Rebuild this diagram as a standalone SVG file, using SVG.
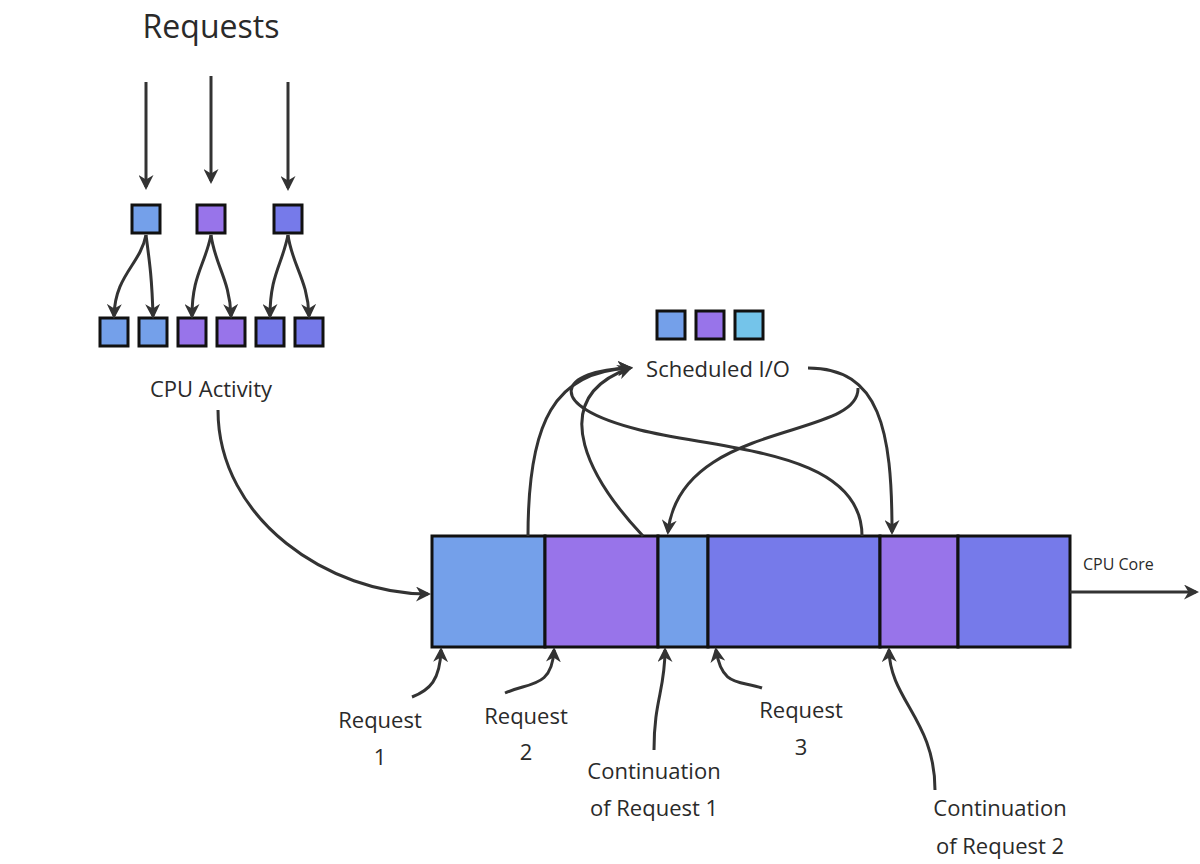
<svg xmlns="http://www.w3.org/2000/svg" width="1200" height="864" viewBox="0 0 1200 864">
<style>
text{font-family:"Open Sans","Noto Sans",sans-serif;fill:#2a2a2a}
.l{font-size:22px;text-anchor:middle}
.sq{stroke:#111;stroke-width:3}
.b{fill:#74a0ea}.p{fill:#9874ea}.i{fill:#767aea}.c{fill:#74c4ea}
#connectors path{fill:none;stroke:#333;stroke-width:3;marker-end:url(#ah)}
</style>
<defs><marker id="ah" viewBox="0 0 10 10" refX="8" refY="5" markerWidth="5" markerHeight="5" orient="auto" markerUnits="strokeWidth"><path d="M0 0L10 5L0 10L3 5Z" fill="#333"/></marker></defs>
<rect width="1200" height="864" fill="#fff"/>
<g id="title"><text x="211" y="38" style="font-size:32px;text-anchor:middle">Requests</text></g>
<g id="req-squares">
<rect class="sq b" x="132" y="205" width="28" height="28"/>
<rect class="sq p" x="197" y="205" width="28" height="28"/>
<rect class="sq i" x="274" y="205" width="28" height="28"/>
</g>
<g id="cpu-activity">
<rect class="sq b" x="100" y="318" width="28" height="28"/>
<rect class="sq b" x="139" y="318" width="28" height="28"/>
<rect class="sq p" x="178" y="318" width="28" height="28"/>
<rect class="sq p" x="217" y="318" width="28" height="28"/>
<rect class="sq i" x="256" y="318" width="28" height="28"/>
<rect class="sq i" x="295" y="318" width="28" height="28"/>
<text class="l" x="211" y="397">CPU Activity</text>
</g>
<g id="scheduled-io">
<rect class="sq b" x="657" y="311" width="28" height="28"/>
<rect class="sq p" x="696" y="311" width="28" height="28"/>
<rect class="sq c" x="735" y="311" width="28" height="28"/>
<text class="l" x="718" y="377">Scheduled I/O</text>
</g>
<g id="cpu-core">
<rect class="sq b" x="432" y="536" width="113" height="111"/>
<rect class="sq p" x="545" y="536" width="113" height="111"/>
<rect class="sq b" x="658" y="536" width="50" height="111"/>
<rect class="sq i" x="708" y="536" width="172" height="111"/>
<rect class="sq p" x="880" y="536" width="78" height="111"/>
<rect class="sq i" x="958" y="536" width="112" height="111"/>
<text x="1083" y="570" style="font-size:16px">CPU Core</text>
</g>
<g id="labels">
<text class="l" x="380" y="728">Request</text><text class="l" x="380" y="765">1</text>
<text class="l" x="526" y="724">Request</text><text class="l" x="526" y="760">2</text>
<text class="l" x="654" y="779">Continuation</text><text class="l" x="654" y="816">of Request 1</text>
<text class="l" x="801" y="718">Request</text><text class="l" x="801" y="755">3</text>
<text class="l" x="1000" y="816">Continuation</text><text class="l" x="1000" y="854">of Request 2</text>
</g>
<g id="connectors">
<path d="M146 82V187"/><path d="M211 76V181"/><path d="M288 82V188"/>
<path d="M146 235C140 265 115 275 114 316"/><path d="M146 235C150 265 152 280 153 316"/>
<path d="M211 235C205 265 192 275 192 316"/><path d="M211 235C215 265 230 280 231 316"/>
<path d="M288 235C282 265 270 275 270 316"/><path d="M288 235C292 265 308 280 309 316"/>
<path d="M218 410C218 520 330 594 428 594"/>
<path d="M1070 592H1196"/>
<path d="M528 536C528 420 555 372 630 368"/>
<path d="M643 536C595 485 540 400 630 368"/>
<path d="M862 536C862 450 720 450 640 430C540 405 560 370 630 368"/>
<path d="M858 388C860 440 680 420 668 532"/>
<path d="M808 368C880 368 892 430 892 532"/>
<path d="M412 697C430 690 440 680 441 650"/>
<path d="M505 693C530 682 552 688 554 650"/>
<path d="M654 750C654 700 665 690 665 650"/>
<path d="M762 688C740 680 722 688 716 650"/>
<path d="M935 790C935 720 890 700 889 650"/>
</g>
</svg>
